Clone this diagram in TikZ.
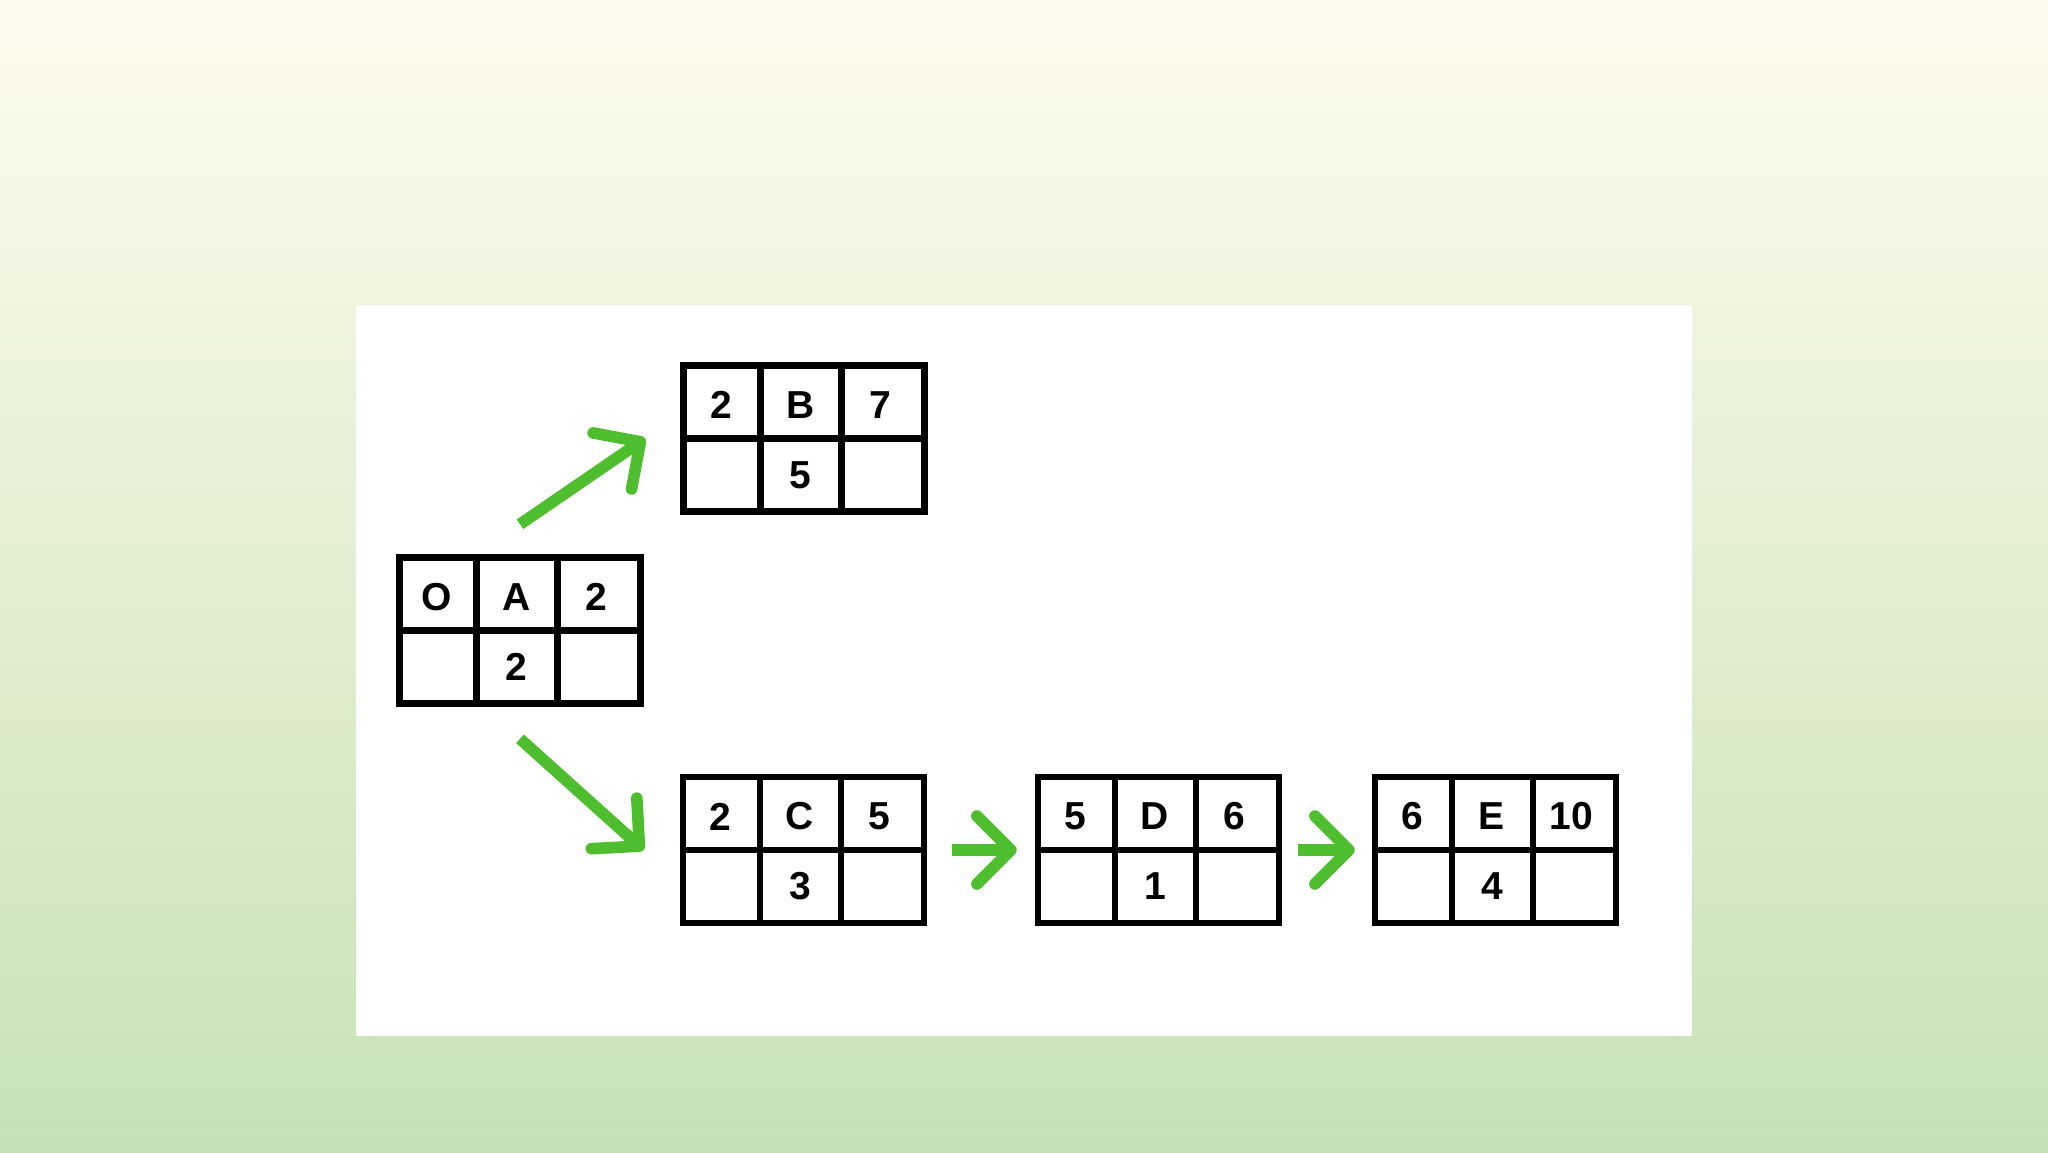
\documentclass[tikz,border=0pt]{standalone}
\usepackage{fontspec}
\setmainfont{Liberation Sans}
\usetikzlibrary{arrows.meta}

\definecolor{bgtop}{RGB}{254,251,238}
\definecolor{bgbot}{RGB}{198,226,181}
\definecolor{flowgreen}{RGB}{78,190,46}

\tikzset{
    actbox/.style={draw=black, line width=3.3pt, rectangle, inner sep=0pt,
        minimum width=120.5pt, minimum height=73pt},
    cell/.style={draw=black, line width=3.3pt},
    num/.style={font=\fontsize{19.5}{23}\selectfont\bfseries, inner sep=0pt},
    flow/.style={draw=flowgreen, line width=5.8pt,
        -{Straight Barb[length=17pt, width=34pt, line cap=round, line join=round]}}
}

\begin{document}
\begin{tikzpicture}[x=0.5pt, y=-0.5pt] %Red de actividades
            \useasboundingbox (0,0) rectangle (2048,1152);
            \shade[top color=bgtop, bottom color=bgbot] (0,0) rectangle (2048,1152);
            \fill[white] (356,305) rectangle (1692,1036);

            \foreach \n/\x/\y/\es/\lb/\ef/\du in {A/520/630.5/O/A/2/2, B/804/438.5/2/B/7/5,
                    C/803.5/850/2/C/5/3, D/1158.5/850/5/D/6/1, E/1495.5/850/6/E/10/4}{
                \node[actbox] (\n) at (\x,\y) {};
                \draw[cell] ([xshift=-21.7pt]\n.north) -- ([xshift=-21.7pt]\n.south);
                \draw[cell] ([xshift=18.7pt]\n.north) -- ([xshift=18.7pt]\n.south);
                \draw[cell] (\n.west) -- (\n.east);

                \node[num] (\n-es) at ({\x-83},{\y-33.6}) {\es};
                \node[num] (\n-lb) at ({\x-3.6},{\y-33.6}) {\lb};
                \node[num] (\n-ef) at ({\x+75.9},{\y-33.6}) {\ef};
                \node[num] (\n-du) at ({\x-3.6},{\y+36.5}) {\du};
            }

            \draw[flow] ([yshift=15pt]A.north) -- ([xshift=-17.5pt]B.west);
            \draw[flow] ([yshift=-16pt]A.south) -- ([xshift=-18pt]C.west);
            \draw[flow] ([xshift=12.5pt]C.east) -- ([xshift=-9pt]D.west);
            \draw[flow] ([xshift=8pt]D.east) -- ([xshift=-8.5pt]E.west);
        \end{tikzpicture}
\end{document}
